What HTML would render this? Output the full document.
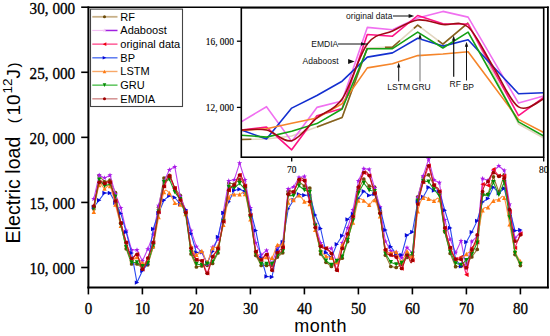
<!DOCTYPE html>
<html><head><meta charset="utf-8"><style>
html,body{margin:0;padding:0;background:#fff;width:550px;height:336px;overflow:hidden;}
svg{display:block;font-family:"Liberation Sans", sans-serif;}
</style></head><body>
<svg width="550" height="336" viewBox="0 0 550 336">
<rect width="550" height="336" fill="#fff"/>
<defs><clipPath id="cm"><rect x="88.4" y="7.2" width="459.5" height="280"/></clipPath><clipPath id="ci"><rect x="241.3" y="7.8" width="302.4" height="149.4"/></clipPath></defs>
<g clip-path="url(#cm)">
<path d="M93.80,209.00 L99.20,175.60 L104.60,181.90 L110.00,180.00 L115.40,192.60 L120.80,223.20 L126.20,248.80 L131.60,264.00 L137.00,264.00 L142.40,267.80 L147.80,264.80 L153.20,246.90 L158.60,207.35 L164.00,178.00 L169.40,175.30 L174.80,188.10 L180.20,195.30 L185.60,210.51 L191.00,254.00 L196.40,267.00 L201.80,266.00 L207.20,265.30 L212.60,263.40 L218.00,253.00 L223.40,218.87 L228.80,183.00 L234.20,184.00 L239.60,179.30 L245.00,185.20 L250.40,214.58 L255.80,255.50 L261.20,265.50 L266.60,265.50 L272.00,265.50 L277.40,257.10 L282.80,252.80 L288.20,191.40 L293.60,191.59 L299.00,181.80 L304.40,186.00 L309.80,188.00 L315.20,224.14 L320.60,254.00 L326.00,262.30 L331.40,266.50 L336.80,262.50 L342.20,258.20 L347.60,241.52 L353.00,217.59 L358.40,189.30 L363.80,179.00 L369.20,186.20 L374.60,187.20 L380.00,210.35 L385.40,255.13 L390.80,266.50 L396.20,267.50 L401.60,264.50 L407.00,257.50 L412.40,255.50 L417.80,196.78 L423.20,177.00 L428.60,174.80 L434.00,185.40 L439.40,192.02 L444.80,231.83 L450.20,253.40 L455.60,266.71 L461.00,266.32 L466.40,263.96 L471.80,256.88 L477.20,249.49 L482.60,194.76 L488.00,194.05 L493.40,176.75 L498.80,191.77 L504.20,174.94 L509.60,214.73 L515.00,254.52 L520.40,265.53" fill="none" stroke="#9a7630" stroke-width="1.1" stroke-linejoin="round"/>
<circle cx="93.80" cy="209.00" r="1.87" fill="#6a4a08"/><circle cx="99.20" cy="175.60" r="1.87" fill="#6a4a08"/><circle cx="104.60" cy="181.90" r="1.87" fill="#6a4a08"/><circle cx="110.00" cy="180.00" r="1.87" fill="#6a4a08"/><circle cx="115.40" cy="192.60" r="1.87" fill="#6a4a08"/><circle cx="120.80" cy="223.20" r="1.87" fill="#6a4a08"/><circle cx="126.20" cy="248.80" r="1.87" fill="#6a4a08"/><circle cx="131.60" cy="264.00" r="1.87" fill="#6a4a08"/><circle cx="137.00" cy="264.00" r="1.87" fill="#6a4a08"/><circle cx="142.40" cy="267.80" r="1.87" fill="#6a4a08"/><circle cx="147.80" cy="264.80" r="1.87" fill="#6a4a08"/><circle cx="153.20" cy="246.90" r="1.87" fill="#6a4a08"/><circle cx="158.60" cy="207.35" r="1.87" fill="#6a4a08"/><circle cx="164.00" cy="178.00" r="1.87" fill="#6a4a08"/><circle cx="169.40" cy="175.30" r="1.87" fill="#6a4a08"/><circle cx="174.80" cy="188.10" r="1.87" fill="#6a4a08"/><circle cx="180.20" cy="195.30" r="1.87" fill="#6a4a08"/><circle cx="185.60" cy="210.51" r="1.87" fill="#6a4a08"/><circle cx="191.00" cy="254.00" r="1.87" fill="#6a4a08"/><circle cx="196.40" cy="267.00" r="1.87" fill="#6a4a08"/><circle cx="201.80" cy="266.00" r="1.87" fill="#6a4a08"/><circle cx="207.20" cy="265.30" r="1.87" fill="#6a4a08"/><circle cx="212.60" cy="263.40" r="1.87" fill="#6a4a08"/><circle cx="218.00" cy="253.00" r="1.87" fill="#6a4a08"/><circle cx="223.40" cy="218.87" r="1.87" fill="#6a4a08"/><circle cx="228.80" cy="183.00" r="1.87" fill="#6a4a08"/><circle cx="234.20" cy="184.00" r="1.87" fill="#6a4a08"/><circle cx="239.60" cy="179.30" r="1.87" fill="#6a4a08"/><circle cx="245.00" cy="185.20" r="1.87" fill="#6a4a08"/><circle cx="250.40" cy="214.58" r="1.87" fill="#6a4a08"/><circle cx="255.80" cy="255.50" r="1.87" fill="#6a4a08"/><circle cx="261.20" cy="265.50" r="1.87" fill="#6a4a08"/><circle cx="266.60" cy="265.50" r="1.87" fill="#6a4a08"/><circle cx="272.00" cy="265.50" r="1.87" fill="#6a4a08"/><circle cx="277.40" cy="257.10" r="1.87" fill="#6a4a08"/><circle cx="282.80" cy="252.80" r="1.87" fill="#6a4a08"/><circle cx="288.20" cy="191.40" r="1.87" fill="#6a4a08"/><circle cx="293.60" cy="191.59" r="1.87" fill="#6a4a08"/><circle cx="299.00" cy="181.80" r="1.87" fill="#6a4a08"/><circle cx="304.40" cy="186.00" r="1.87" fill="#6a4a08"/><circle cx="309.80" cy="188.00" r="1.87" fill="#6a4a08"/><circle cx="315.20" cy="224.14" r="1.87" fill="#6a4a08"/><circle cx="320.60" cy="254.00" r="1.87" fill="#6a4a08"/><circle cx="326.00" cy="262.30" r="1.87" fill="#6a4a08"/><circle cx="331.40" cy="266.50" r="1.87" fill="#6a4a08"/><circle cx="336.80" cy="262.50" r="1.87" fill="#6a4a08"/><circle cx="342.20" cy="258.20" r="1.87" fill="#6a4a08"/><circle cx="347.60" cy="241.52" r="1.87" fill="#6a4a08"/><circle cx="353.00" cy="217.59" r="1.87" fill="#6a4a08"/><circle cx="358.40" cy="189.30" r="1.87" fill="#6a4a08"/><circle cx="363.80" cy="179.00" r="1.87" fill="#6a4a08"/><circle cx="369.20" cy="186.20" r="1.87" fill="#6a4a08"/><circle cx="374.60" cy="187.20" r="1.87" fill="#6a4a08"/><circle cx="380.00" cy="210.35" r="1.87" fill="#6a4a08"/><circle cx="385.40" cy="255.13" r="1.87" fill="#6a4a08"/><circle cx="390.80" cy="266.50" r="1.87" fill="#6a4a08"/><circle cx="396.20" cy="267.50" r="1.87" fill="#6a4a08"/><circle cx="401.60" cy="264.50" r="1.87" fill="#6a4a08"/><circle cx="407.00" cy="257.50" r="1.87" fill="#6a4a08"/><circle cx="412.40" cy="255.50" r="1.87" fill="#6a4a08"/><circle cx="417.80" cy="196.78" r="1.87" fill="#6a4a08"/><circle cx="423.20" cy="177.00" r="1.87" fill="#6a4a08"/><circle cx="428.60" cy="174.80" r="1.87" fill="#6a4a08"/><circle cx="434.00" cy="185.40" r="1.87" fill="#6a4a08"/><circle cx="439.40" cy="192.02" r="1.87" fill="#6a4a08"/><circle cx="444.80" cy="231.83" r="1.87" fill="#6a4a08"/><circle cx="450.20" cy="253.40" r="1.87" fill="#6a4a08"/><circle cx="455.60" cy="266.71" r="1.87" fill="#6a4a08"/><circle cx="461.00" cy="266.32" r="1.87" fill="#6a4a08"/><circle cx="466.40" cy="263.96" r="1.87" fill="#6a4a08"/><circle cx="471.80" cy="256.88" r="1.87" fill="#6a4a08"/><circle cx="477.20" cy="249.49" r="1.87" fill="#6a4a08"/><circle cx="482.60" cy="194.76" r="1.87" fill="#6a4a08"/><circle cx="488.00" cy="194.05" r="1.87" fill="#6a4a08"/><circle cx="493.40" cy="176.75" r="1.87" fill="#6a4a08"/><circle cx="498.80" cy="191.77" r="1.87" fill="#6a4a08"/><circle cx="504.20" cy="174.94" r="1.87" fill="#6a4a08"/><circle cx="509.60" cy="214.73" r="1.87" fill="#6a4a08"/><circle cx="515.00" cy="254.52" r="1.87" fill="#6a4a08"/><circle cx="520.40" cy="265.53" r="1.87" fill="#6a4a08"/>
<path d="M93.80,199.00 L99.20,175.20 L104.60,177.90 L110.00,175.20 L115.40,194.00 L120.80,208.00 L126.20,230.71 L131.60,250.00 L137.00,250.00 L142.40,261.00 L147.80,249.10 L153.20,234.62 L158.60,205.66 L164.00,181.40 L169.40,169.80 L174.80,166.80 L180.20,196.60 L185.60,210.00 L191.00,230.60 L196.40,246.68 L201.80,252.50 L207.20,264.30 L212.60,247.37 L218.00,239.44 L223.40,211.92 L228.80,180.80 L234.20,179.80 L239.60,163.10 L245.00,180.00 L250.40,207.83 L255.80,243.00 L261.20,255.00 L266.60,250.40 L272.00,264.00 L277.40,247.30 L282.80,242.00 L288.20,189.00 L293.60,186.90 L299.00,177.50 L304.40,176.50 L309.80,197.69 L315.20,223.86 L320.60,243.00 L326.00,249.00 L331.40,248.30 L336.80,263.00 L342.20,243.00 L347.60,227.97 L353.00,210.00 L358.40,181.00 L363.80,168.75 L369.20,169.40 L374.60,188.00 L380.00,207.00 L385.40,241.50 L390.80,250.80 L396.20,252.30 L401.60,258.00 L407.00,247.70 L412.40,252.72 L417.80,197.70 L423.20,175.80 L428.60,159.20 L434.00,180.00 L439.40,182.70 L444.80,220.00 L450.20,239.36 L455.60,252.72 L461.00,240.92 L466.40,268.21 L471.80,241.47 L477.20,236.44 L482.60,178.56 L488.00,180.44 L493.40,171.09 L498.80,165.98 L504.20,170.46 L509.60,204.27 L515.00,238.09 L520.40,232.50" fill="none" stroke="#c040f0" stroke-width="1.1" stroke-linejoin="round"/>
<polygon points="93.80,196.25 94.45,198.11 96.42,198.15 94.85,199.34 95.42,201.22 93.80,200.10 92.18,201.22 92.75,199.34 91.18,198.15 93.15,198.11" fill="#a818e8"/><polygon points="99.20,172.45 99.85,174.31 101.82,174.35 100.25,175.54 100.82,177.42 99.20,176.30 97.58,177.42 98.15,175.54 96.58,174.35 98.55,174.31" fill="#a818e8"/><polygon points="104.60,175.15 105.25,177.01 107.22,177.05 105.65,178.24 106.22,180.12 104.60,179.00 102.98,180.12 103.55,178.24 101.98,177.05 103.95,177.01" fill="#a818e8"/><polygon points="110.00,172.45 110.65,174.31 112.62,174.35 111.05,175.54 111.62,177.42 110.00,176.30 108.38,177.42 108.95,175.54 107.38,174.35 109.35,174.31" fill="#a818e8"/><polygon points="115.40,191.25 116.05,193.11 118.02,193.15 116.45,194.34 117.02,196.22 115.40,195.10 113.78,196.22 114.35,194.34 112.78,193.15 114.75,193.11" fill="#a818e8"/><polygon points="120.80,205.25 121.45,207.11 123.42,207.15 121.85,208.34 122.42,210.22 120.80,209.10 119.18,210.22 119.75,208.34 118.18,207.15 120.15,207.11" fill="#a818e8"/><polygon points="126.20,227.96 126.85,229.82 128.82,229.86 127.25,231.05 127.82,232.94 126.20,231.81 124.58,232.94 125.15,231.05 123.58,229.86 125.55,229.82" fill="#a818e8"/><polygon points="131.60,247.25 132.25,249.11 134.22,249.15 132.65,250.34 133.22,252.22 131.60,251.10 129.98,252.22 130.55,250.34 128.98,249.15 130.95,249.11" fill="#a818e8"/><polygon points="137.00,247.25 137.65,249.11 139.62,249.15 138.05,250.34 138.62,252.22 137.00,251.10 135.38,252.22 135.95,250.34 134.38,249.15 136.35,249.11" fill="#a818e8"/><polygon points="142.40,258.25 143.05,260.11 145.02,260.15 143.45,261.34 144.02,263.22 142.40,262.10 140.78,263.22 141.35,261.34 139.78,260.15 141.75,260.11" fill="#a818e8"/><polygon points="147.80,246.35 148.45,248.21 150.42,248.25 148.85,249.44 149.42,251.32 147.80,250.20 146.18,251.32 146.75,249.44 145.18,248.25 147.15,248.21" fill="#a818e8"/><polygon points="153.20,231.87 153.85,233.73 155.82,233.77 154.25,234.96 154.82,236.84 153.20,235.72 151.58,236.84 152.15,234.96 150.58,233.77 152.55,233.73" fill="#a818e8"/><polygon points="158.60,202.91 159.25,204.77 161.22,204.81 159.65,206.00 160.22,207.89 158.60,206.76 156.98,207.89 157.55,206.00 155.98,204.81 157.95,204.77" fill="#a818e8"/><polygon points="164.00,178.65 164.65,180.51 166.62,180.55 165.05,181.74 165.62,183.62 164.00,182.50 162.38,183.62 162.95,181.74 161.38,180.55 163.35,180.51" fill="#a818e8"/><polygon points="169.40,167.05 170.05,168.91 172.02,168.95 170.45,170.14 171.02,172.02 169.40,170.90 167.78,172.02 168.35,170.14 166.78,168.95 168.75,168.91" fill="#a818e8"/><polygon points="174.80,164.05 175.45,165.91 177.42,165.95 175.85,167.14 176.42,169.02 174.80,167.90 173.18,169.02 173.75,167.14 172.18,165.95 174.15,165.91" fill="#a818e8"/><polygon points="180.20,193.85 180.85,195.71 182.82,195.75 181.25,196.94 181.82,198.82 180.20,197.70 178.58,198.82 179.15,196.94 177.58,195.75 179.55,195.71" fill="#a818e8"/><polygon points="185.60,207.25 186.25,209.11 188.22,209.15 186.65,210.34 187.22,212.22 185.60,211.10 183.98,212.22 184.55,210.34 182.98,209.15 184.95,209.11" fill="#a818e8"/><polygon points="191.00,227.85 191.65,229.71 193.62,229.75 192.05,230.94 192.62,232.82 191.00,231.70 189.38,232.82 189.95,230.94 188.38,229.75 190.35,229.71" fill="#a818e8"/><polygon points="196.40,243.93 197.05,245.79 199.02,245.83 197.45,247.02 198.02,248.91 196.40,247.78 194.78,248.91 195.35,247.02 193.78,245.83 195.75,245.79" fill="#a818e8"/><polygon points="201.80,249.75 202.45,251.61 204.42,251.65 202.85,252.84 203.42,254.72 201.80,253.60 200.18,254.72 200.75,252.84 199.18,251.65 201.15,251.61" fill="#a818e8"/><polygon points="207.20,261.55 207.85,263.41 209.82,263.45 208.25,264.64 208.82,266.52 207.20,265.40 205.58,266.52 206.15,264.64 204.58,263.45 206.55,263.41" fill="#a818e8"/><polygon points="212.60,244.62 213.25,246.48 215.22,246.52 213.65,247.71 214.22,249.59 212.60,248.47 210.98,249.59 211.55,247.71 209.98,246.52 211.95,246.48" fill="#a818e8"/><polygon points="218.00,236.69 218.65,238.55 220.62,238.59 219.05,239.78 219.62,241.66 218.00,240.54 216.38,241.66 216.95,239.78 215.38,238.59 217.35,238.55" fill="#a818e8"/><polygon points="223.40,209.17 224.05,211.03 226.02,211.07 224.45,212.26 225.02,214.14 223.40,213.02 221.78,214.14 222.35,212.26 220.78,211.07 222.75,211.03" fill="#a818e8"/><polygon points="228.80,178.05 229.45,179.91 231.42,179.95 229.85,181.14 230.42,183.02 228.80,181.90 227.18,183.02 227.75,181.14 226.18,179.95 228.15,179.91" fill="#a818e8"/><polygon points="234.20,177.05 234.85,178.91 236.82,178.95 235.25,180.14 235.82,182.02 234.20,180.90 232.58,182.02 233.15,180.14 231.58,178.95 233.55,178.91" fill="#a818e8"/><polygon points="239.60,160.35 240.25,162.21 242.22,162.25 240.65,163.44 241.22,165.32 239.60,164.20 237.98,165.32 238.55,163.44 236.98,162.25 238.95,162.21" fill="#a818e8"/><polygon points="245.00,177.25 245.65,179.11 247.62,179.15 246.05,180.34 246.62,182.22 245.00,181.10 243.38,182.22 243.95,180.34 242.38,179.15 244.35,179.11" fill="#a818e8"/><polygon points="250.40,205.08 251.05,206.94 253.02,206.98 251.45,208.17 252.02,210.06 250.40,208.93 248.78,210.06 249.35,208.17 247.78,206.98 249.75,206.94" fill="#a818e8"/><polygon points="255.80,240.25 256.45,242.11 258.42,242.15 256.85,243.34 257.42,245.22 255.80,244.10 254.18,245.22 254.75,243.34 253.18,242.15 255.15,242.11" fill="#a818e8"/><polygon points="261.20,252.25 261.85,254.11 263.82,254.15 262.25,255.34 262.82,257.22 261.20,256.10 259.58,257.22 260.15,255.34 258.58,254.15 260.55,254.11" fill="#a818e8"/><polygon points="266.60,247.65 267.25,249.51 269.22,249.55 267.65,250.74 268.22,252.62 266.60,251.50 264.98,252.62 265.55,250.74 263.98,249.55 265.95,249.51" fill="#a818e8"/><polygon points="272.00,261.25 272.65,263.11 274.62,263.15 273.05,264.34 273.62,266.22 272.00,265.10 270.38,266.22 270.95,264.34 269.38,263.15 271.35,263.11" fill="#a818e8"/><polygon points="277.40,244.55 278.05,246.41 280.02,246.45 278.45,247.64 279.02,249.52 277.40,248.40 275.78,249.52 276.35,247.64 274.78,246.45 276.75,246.41" fill="#a818e8"/><polygon points="282.80,239.25 283.45,241.11 285.42,241.15 283.85,242.34 284.42,244.22 282.80,243.10 281.18,244.22 281.75,242.34 280.18,241.15 282.15,241.11" fill="#a818e8"/><polygon points="288.20,186.25 288.85,188.11 290.82,188.15 289.25,189.34 289.82,191.22 288.20,190.10 286.58,191.22 287.15,189.34 285.58,188.15 287.55,188.11" fill="#a818e8"/><polygon points="293.60,184.15 294.25,186.01 296.22,186.05 294.65,187.24 295.22,189.12 293.60,188.00 291.98,189.12 292.55,187.24 290.98,186.05 292.95,186.01" fill="#a818e8"/><polygon points="299.00,174.75 299.65,176.61 301.62,176.65 300.05,177.84 300.62,179.72 299.00,178.60 297.38,179.72 297.95,177.84 296.38,176.65 298.35,176.61" fill="#a818e8"/><polygon points="304.40,173.75 305.05,175.61 307.02,175.65 305.45,176.84 306.02,178.72 304.40,177.60 302.78,178.72 303.35,176.84 301.78,175.65 303.75,175.61" fill="#a818e8"/><polygon points="309.80,194.94 310.45,196.80 312.42,196.84 310.85,198.03 311.42,199.91 309.80,198.79 308.18,199.91 308.75,198.03 307.18,196.84 309.15,196.80" fill="#a818e8"/><polygon points="315.20,221.11 315.85,222.97 317.82,223.01 316.25,224.20 316.82,226.09 315.20,224.96 313.58,226.09 314.15,224.20 312.58,223.01 314.55,222.97" fill="#a818e8"/><polygon points="320.60,240.25 321.25,242.11 323.22,242.15 321.65,243.34 322.22,245.22 320.60,244.10 318.98,245.22 319.55,243.34 317.98,242.15 319.95,242.11" fill="#a818e8"/><polygon points="326.00,246.25 326.65,248.11 328.62,248.15 327.05,249.34 327.62,251.22 326.00,250.10 324.38,251.22 324.95,249.34 323.38,248.15 325.35,248.11" fill="#a818e8"/><polygon points="331.40,245.55 332.05,247.41 334.02,247.45 332.45,248.64 333.02,250.52 331.40,249.40 329.78,250.52 330.35,248.64 328.78,247.45 330.75,247.41" fill="#a818e8"/><polygon points="336.80,260.25 337.45,262.11 339.42,262.15 337.85,263.34 338.42,265.22 336.80,264.10 335.18,265.22 335.75,263.34 334.18,262.15 336.15,262.11" fill="#a818e8"/><polygon points="342.20,240.25 342.85,242.11 344.82,242.15 343.25,243.34 343.82,245.22 342.20,244.10 340.58,245.22 341.15,243.34 339.58,242.15 341.55,242.11" fill="#a818e8"/><polygon points="347.60,225.22 348.25,227.08 350.22,227.12 348.65,228.31 349.22,230.19 347.60,229.07 345.98,230.19 346.55,228.31 344.98,227.12 346.95,227.08" fill="#a818e8"/><polygon points="353.00,207.25 353.65,209.11 355.62,209.15 354.05,210.34 354.62,212.22 353.00,211.10 351.38,212.22 351.95,210.34 350.38,209.15 352.35,209.11" fill="#a818e8"/><polygon points="358.40,178.25 359.05,180.11 361.02,180.15 359.45,181.34 360.02,183.22 358.40,182.10 356.78,183.22 357.35,181.34 355.78,180.15 357.75,180.11" fill="#a818e8"/><polygon points="363.80,166.00 364.45,167.86 366.42,167.90 364.85,169.09 365.42,170.97 363.80,169.85 362.18,170.97 362.75,169.09 361.18,167.90 363.15,167.86" fill="#a818e8"/><polygon points="369.20,166.65 369.85,168.51 371.82,168.55 370.25,169.74 370.82,171.62 369.20,170.50 367.58,171.62 368.15,169.74 366.58,168.55 368.55,168.51" fill="#a818e8"/><polygon points="374.60,185.25 375.25,187.11 377.22,187.15 375.65,188.34 376.22,190.22 374.60,189.10 372.98,190.22 373.55,188.34 371.98,187.15 373.95,187.11" fill="#a818e8"/><polygon points="380.00,204.25 380.65,206.11 382.62,206.15 381.05,207.34 381.62,209.22 380.00,208.10 378.38,209.22 378.95,207.34 377.38,206.15 379.35,206.11" fill="#a818e8"/><polygon points="385.40,238.75 386.05,240.61 388.02,240.65 386.45,241.84 387.02,243.72 385.40,242.60 383.78,243.72 384.35,241.84 382.78,240.65 384.75,240.61" fill="#a818e8"/><polygon points="390.80,248.05 391.45,249.91 393.42,249.95 391.85,251.14 392.42,253.02 390.80,251.90 389.18,253.02 389.75,251.14 388.18,249.95 390.15,249.91" fill="#a818e8"/><polygon points="396.20,249.55 396.85,251.41 398.82,251.45 397.25,252.64 397.82,254.52 396.20,253.40 394.58,254.52 395.15,252.64 393.58,251.45 395.55,251.41" fill="#a818e8"/><polygon points="401.60,255.25 402.25,257.11 404.22,257.15 402.65,258.34 403.22,260.22 401.60,259.10 399.98,260.22 400.55,258.34 398.98,257.15 400.95,257.11" fill="#a818e8"/><polygon points="407.00,244.95 407.65,246.81 409.62,246.85 408.05,248.04 408.62,249.92 407.00,248.80 405.38,249.92 405.95,248.04 404.38,246.85 406.35,246.81" fill="#a818e8"/><polygon points="412.40,249.97 413.05,251.83 415.02,251.87 413.45,253.06 414.02,254.94 412.40,253.82 410.78,254.94 411.35,253.06 409.78,251.87 411.75,251.83" fill="#a818e8"/><polygon points="417.80,194.95 418.45,196.81 420.42,196.85 418.85,198.04 419.42,199.92 417.80,198.80 416.18,199.92 416.75,198.04 415.18,196.85 417.15,196.81" fill="#a818e8"/><polygon points="423.20,173.05 423.85,174.91 425.82,174.95 424.25,176.14 424.82,178.02 423.20,176.90 421.58,178.02 422.15,176.14 420.58,174.95 422.55,174.91" fill="#a818e8"/><polygon points="428.60,156.45 429.25,158.31 431.22,158.35 429.65,159.54 430.22,161.42 428.60,160.30 426.98,161.42 427.55,159.54 425.98,158.35 427.95,158.31" fill="#a818e8"/><polygon points="434.00,177.25 434.65,179.11 436.62,179.15 435.05,180.34 435.62,182.22 434.00,181.10 432.38,182.22 432.95,180.34 431.38,179.15 433.35,179.11" fill="#a818e8"/><polygon points="439.40,179.95 440.05,181.81 442.02,181.85 440.45,183.04 441.02,184.92 439.40,183.80 437.78,184.92 438.35,183.04 436.78,181.85 438.75,181.81" fill="#a818e8"/><polygon points="444.80,217.25 445.45,219.11 447.42,219.15 445.85,220.34 446.42,222.22 444.80,221.10 443.18,222.22 443.75,220.34 442.18,219.15 444.15,219.11" fill="#a818e8"/><polygon points="450.20,236.61 450.85,238.47 452.82,238.51 451.25,239.70 451.82,241.58 450.20,240.46 448.58,241.58 449.15,239.70 447.58,238.51 449.55,238.47" fill="#a818e8"/><polygon points="455.60,249.97 456.25,251.83 458.22,251.87 456.65,253.06 457.22,254.94 455.60,253.82 453.98,254.94 454.55,253.06 452.98,251.87 454.95,251.83" fill="#a818e8"/><polygon points="461.00,238.17 461.65,240.03 463.62,240.07 462.05,241.26 462.62,243.14 461.00,242.02 459.38,243.14 459.95,241.26 458.38,240.07 460.35,240.03" fill="#a818e8"/><polygon points="466.40,265.46 467.05,267.32 469.02,267.36 467.45,268.55 468.02,270.43 466.40,269.31 464.78,270.43 465.35,268.55 463.78,267.36 465.75,267.32" fill="#a818e8"/><polygon points="471.80,238.72 472.45,240.58 474.42,240.62 472.85,241.81 473.42,243.69 471.80,242.57 470.18,243.69 470.75,241.81 469.18,240.62 471.15,240.58" fill="#a818e8"/><polygon points="477.20,233.69 477.85,235.55 479.82,235.59 478.25,236.78 478.82,238.66 477.20,237.54 475.58,238.66 476.15,236.78 474.58,235.59 476.55,235.55" fill="#a818e8"/><polygon points="482.60,175.81 483.25,177.67 485.22,177.71 483.65,178.90 484.22,180.78 482.60,179.66 480.98,180.78 481.55,178.90 479.98,177.71 481.95,177.67" fill="#a818e8"/><polygon points="488.00,177.69 488.65,179.56 490.62,179.60 489.05,180.78 489.62,182.67 488.00,181.54 486.38,182.67 486.95,180.78 485.38,179.60 487.35,179.56" fill="#a818e8"/><polygon points="493.40,168.34 494.05,170.20 496.02,170.24 494.45,171.43 495.02,173.31 493.40,172.19 491.78,173.31 492.35,171.43 490.78,170.24 492.75,170.20" fill="#a818e8"/><polygon points="498.80,163.23 499.45,165.09 501.42,165.13 499.85,166.32 500.42,168.20 498.80,167.08 497.18,168.20 497.75,166.32 496.18,165.13 498.15,165.09" fill="#a818e8"/><polygon points="504.20,167.71 504.85,169.57 506.82,169.61 505.25,170.80 505.82,172.68 504.20,171.56 502.58,172.68 503.15,170.80 501.58,169.61 503.55,169.57" fill="#a818e8"/><polygon points="509.60,201.52 510.25,203.38 512.22,203.42 510.65,204.61 511.22,206.50 509.60,205.37 507.98,206.50 508.55,204.61 506.98,203.42 508.95,203.38" fill="#a818e8"/><polygon points="515.00,235.34 515.65,237.20 517.62,237.24 516.05,238.43 516.62,240.31 515.00,239.19 513.38,240.31 513.95,238.43 512.38,237.24 514.35,237.20" fill="#a818e8"/><polygon points="520.40,229.75 521.05,231.62 523.02,231.66 521.45,232.84 522.02,234.73 520.40,233.60 518.78,234.73 519.35,232.84 517.78,231.66 519.75,231.62" fill="#a818e8"/>
<path d="M93.80,206.00 L99.20,182.30 L104.60,183.50 L110.00,182.30 L115.40,201.00 L120.80,223.00 L126.20,242.50 L131.60,258.50 L137.00,254.30 L142.40,269.20 L147.80,258.00 L153.20,242.40 L158.60,212.00 L164.00,186.40 L169.40,176.40 L174.80,188.20 L180.20,200.00 L185.60,212.50 L191.00,248.30 L196.40,259.80 L201.80,260.80 L207.20,273.30 L212.60,256.70 L218.00,248.30 L223.40,221.50 L228.80,190.20 L234.20,185.00 L239.60,175.00 L245.00,186.00 L250.40,215.00 L255.80,251.50 L261.20,259.80 L266.60,254.60 L272.00,270.20 L277.40,252.50 L282.80,247.30 L288.20,194.20 L293.60,192.00 L299.00,179.60 L304.40,180.60 L309.80,201.50 L315.20,227.50 L320.60,246.30 L326.00,248.30 L331.40,253.50 L336.80,270.20 L342.20,248.30 L347.60,233.80 L353.00,216.30 L358.40,187.00 L363.80,172.50 L369.20,175.60 L374.60,193.30 L380.00,213.30 L385.40,249.80 L390.80,255.00 L396.20,257.10 L401.60,268.50 L407.00,255.00 L412.40,260.20 L417.80,204.00 L423.20,182.00 L428.60,165.80 L434.00,185.20 L439.40,191.50 L444.80,227.90 L450.20,247.70 L455.60,259.24 L461.00,256.96 L466.40,274.81 L471.80,248.00 L477.20,242.41 L482.60,184.14 L488.00,185.48 L493.40,169.20 L498.80,175.73 L504.20,175.88 L509.60,211.90 L515.00,247.92 L520.40,233.68" fill="none" stroke="#ff2070" stroke-width="1.1" stroke-linejoin="round"/>
<polygon points="91.60,206.00 96.00,203.80 96.00,208.20" fill="#ee0010"/><polygon points="97.00,182.30 101.40,180.10 101.40,184.50" fill="#ee0010"/><polygon points="102.40,183.50 106.80,181.30 106.80,185.70" fill="#ee0010"/><polygon points="107.80,182.30 112.20,180.10 112.20,184.50" fill="#ee0010"/><polygon points="113.20,201.00 117.60,198.80 117.60,203.20" fill="#ee0010"/><polygon points="118.60,223.00 123.00,220.80 123.00,225.20" fill="#ee0010"/><polygon points="124.00,242.50 128.40,240.30 128.40,244.70" fill="#ee0010"/><polygon points="129.40,258.50 133.80,256.30 133.80,260.70" fill="#ee0010"/><polygon points="134.80,254.30 139.20,252.10 139.20,256.50" fill="#ee0010"/><polygon points="140.20,269.20 144.60,267.00 144.60,271.40" fill="#ee0010"/><polygon points="145.60,258.00 150.00,255.80 150.00,260.20" fill="#ee0010"/><polygon points="151.00,242.40 155.40,240.20 155.40,244.60" fill="#ee0010"/><polygon points="156.40,212.00 160.80,209.80 160.80,214.20" fill="#ee0010"/><polygon points="161.80,186.40 166.20,184.20 166.20,188.60" fill="#ee0010"/><polygon points="167.20,176.40 171.60,174.20 171.60,178.60" fill="#ee0010"/><polygon points="172.60,188.20 177.00,186.00 177.00,190.40" fill="#ee0010"/><polygon points="178.00,200.00 182.40,197.80 182.40,202.20" fill="#ee0010"/><polygon points="183.40,212.50 187.80,210.30 187.80,214.70" fill="#ee0010"/><polygon points="188.80,248.30 193.20,246.10 193.20,250.50" fill="#ee0010"/><polygon points="194.20,259.80 198.60,257.60 198.60,262.00" fill="#ee0010"/><polygon points="199.60,260.80 204.00,258.60 204.00,263.00" fill="#ee0010"/><polygon points="205.00,273.30 209.40,271.10 209.40,275.50" fill="#ee0010"/><polygon points="210.40,256.70 214.80,254.50 214.80,258.90" fill="#ee0010"/><polygon points="215.80,248.30 220.20,246.10 220.20,250.50" fill="#ee0010"/><polygon points="221.20,221.50 225.60,219.30 225.60,223.70" fill="#ee0010"/><polygon points="226.60,190.20 231.00,188.00 231.00,192.40" fill="#ee0010"/><polygon points="232.00,185.00 236.40,182.80 236.40,187.20" fill="#ee0010"/><polygon points="237.40,175.00 241.80,172.80 241.80,177.20" fill="#ee0010"/><polygon points="242.80,186.00 247.20,183.80 247.20,188.20" fill="#ee0010"/><polygon points="248.20,215.00 252.60,212.80 252.60,217.20" fill="#ee0010"/><polygon points="253.60,251.50 258.00,249.30 258.00,253.70" fill="#ee0010"/><polygon points="259.00,259.80 263.40,257.60 263.40,262.00" fill="#ee0010"/><polygon points="264.40,254.60 268.80,252.40 268.80,256.80" fill="#ee0010"/><polygon points="269.80,270.20 274.20,268.00 274.20,272.40" fill="#ee0010"/><polygon points="275.20,252.50 279.60,250.30 279.60,254.70" fill="#ee0010"/><polygon points="280.60,247.30 285.00,245.10 285.00,249.50" fill="#ee0010"/><polygon points="286.00,194.20 290.40,192.00 290.40,196.40" fill="#ee0010"/><polygon points="291.40,192.00 295.80,189.80 295.80,194.20" fill="#ee0010"/><polygon points="296.80,179.60 301.20,177.40 301.20,181.80" fill="#ee0010"/><polygon points="302.20,180.60 306.60,178.40 306.60,182.80" fill="#ee0010"/><polygon points="307.60,201.50 312.00,199.30 312.00,203.70" fill="#ee0010"/><polygon points="313.00,227.50 317.40,225.30 317.40,229.70" fill="#ee0010"/><polygon points="318.40,246.30 322.80,244.10 322.80,248.50" fill="#ee0010"/><polygon points="323.80,248.30 328.20,246.10 328.20,250.50" fill="#ee0010"/><polygon points="329.20,253.50 333.60,251.30 333.60,255.70" fill="#ee0010"/><polygon points="334.60,270.20 339.00,268.00 339.00,272.40" fill="#ee0010"/><polygon points="340.00,248.30 344.40,246.10 344.40,250.50" fill="#ee0010"/><polygon points="345.40,233.80 349.80,231.60 349.80,236.00" fill="#ee0010"/><polygon points="350.80,216.30 355.20,214.10 355.20,218.50" fill="#ee0010"/><polygon points="356.20,187.00 360.60,184.80 360.60,189.20" fill="#ee0010"/><polygon points="361.60,172.50 366.00,170.30 366.00,174.70" fill="#ee0010"/><polygon points="367.00,175.60 371.40,173.40 371.40,177.80" fill="#ee0010"/><polygon points="372.40,193.30 376.80,191.10 376.80,195.50" fill="#ee0010"/><polygon points="377.80,213.30 382.20,211.10 382.20,215.50" fill="#ee0010"/><polygon points="383.20,249.80 387.60,247.60 387.60,252.00" fill="#ee0010"/><polygon points="388.60,255.00 393.00,252.80 393.00,257.20" fill="#ee0010"/><polygon points="394.00,257.10 398.40,254.90 398.40,259.30" fill="#ee0010"/><polygon points="399.40,268.50 403.80,266.30 403.80,270.70" fill="#ee0010"/><polygon points="404.80,255.00 409.20,252.80 409.20,257.20" fill="#ee0010"/><polygon points="410.20,260.20 414.60,258.00 414.60,262.40" fill="#ee0010"/><polygon points="415.60,204.00 420.00,201.80 420.00,206.20" fill="#ee0010"/><polygon points="421.00,182.00 425.40,179.80 425.40,184.20" fill="#ee0010"/><polygon points="426.40,165.80 430.80,163.60 430.80,168.00" fill="#ee0010"/><polygon points="431.80,185.20 436.20,183.00 436.20,187.40" fill="#ee0010"/><polygon points="437.20,191.50 441.60,189.30 441.60,193.70" fill="#ee0010"/><polygon points="442.60,227.90 447.00,225.70 447.00,230.10" fill="#ee0010"/><polygon points="448.00,247.70 452.40,245.50 452.40,249.90" fill="#ee0010"/><polygon points="453.40,259.24 457.80,257.04 457.80,261.44" fill="#ee0010"/><polygon points="458.80,256.96 463.20,254.76 463.20,259.16" fill="#ee0010"/><polygon points="464.20,274.81 468.60,272.61 468.60,277.01" fill="#ee0010"/><polygon points="469.60,248.00 474.00,245.80 474.00,250.20" fill="#ee0010"/><polygon points="475.00,242.41 479.40,240.21 479.40,244.61" fill="#ee0010"/><polygon points="480.40,184.14 484.80,181.94 484.80,186.34" fill="#ee0010"/><polygon points="485.80,185.48 490.20,183.28 490.20,187.68" fill="#ee0010"/><polygon points="491.20,169.20 495.60,167.00 495.60,171.40" fill="#ee0010"/><polygon points="496.60,175.73 501.00,173.53 501.00,177.93" fill="#ee0010"/><polygon points="502.00,175.88 506.40,173.68 506.40,178.08" fill="#ee0010"/><polygon points="507.40,211.90 511.80,209.70 511.80,214.10" fill="#ee0010"/><polygon points="512.80,247.92 517.20,245.72 517.20,250.12" fill="#ee0010"/><polygon points="518.20,233.68 522.60,231.48 522.60,235.88" fill="#ee0010"/>
<path d="M93.80,207.00 L99.20,200.20 L104.60,193.00 L110.00,193.00 L115.40,202.80 L120.80,213.40 L126.20,232.10 L131.60,253.00 L137.00,282.60 L142.40,270.70 L147.80,264.00 L153.20,229.00 L158.60,213.00 L164.00,200.20 L169.40,195.70 L174.80,197.50 L180.20,204.00 L185.60,209.70 L191.00,233.80 L196.40,252.50 L201.80,252.00 L207.20,263.00 L212.60,251.50 L218.00,236.90 L223.40,213.00 L228.80,201.70 L234.20,190.20 L239.60,189.20 L245.00,191.70 L250.40,210.00 L255.80,230.60 L261.20,257.70 L266.60,276.50 L272.00,277.00 L277.40,250.00 L282.80,242.00 L288.20,208.80 L293.60,200.00 L299.00,194.20 L304.40,195.20 L309.80,195.00 L315.20,215.00 L320.60,228.50 L326.00,252.50 L331.40,257.70 L336.80,244.20 L342.20,235.80 L347.60,219.40 L353.00,214.00 L358.40,198.50 L363.80,191.30 L369.20,195.40 L374.60,194.00 L380.00,208.00 L385.40,230.00 L390.80,246.70 L396.20,254.00 L401.60,255.00 L407.00,235.20 L412.40,232.00 L417.80,201.40 L423.20,197.00 L428.60,187.30 L434.00,190.50 L439.40,191.60 L444.80,210.20 L450.20,227.90 L455.60,259.24 L461.00,266.32 L466.40,242.02 L471.80,232.11 L477.20,220.87 L482.60,201.91 L488.00,198.61 L493.40,187.13 L498.80,193.26 L504.20,188.31 L509.60,209.52 L515.00,230.74 L520.40,229.99" fill="none" stroke="#2848f0" stroke-width="1.1" stroke-linejoin="round"/>
<polygon points="96.00,207.00 91.60,204.80 91.60,209.20" fill="#0808d8"/><polygon points="101.40,200.20 97.00,198.00 97.00,202.40" fill="#0808d8"/><polygon points="106.80,193.00 102.40,190.80 102.40,195.20" fill="#0808d8"/><polygon points="112.20,193.00 107.80,190.80 107.80,195.20" fill="#0808d8"/><polygon points="117.60,202.80 113.20,200.60 113.20,205.00" fill="#0808d8"/><polygon points="123.00,213.40 118.60,211.20 118.60,215.60" fill="#0808d8"/><polygon points="128.40,232.10 124.00,229.90 124.00,234.30" fill="#0808d8"/><polygon points="133.80,253.00 129.40,250.80 129.40,255.20" fill="#0808d8"/><polygon points="139.20,282.60 134.80,280.40 134.80,284.80" fill="#0808d8"/><polygon points="144.60,270.70 140.20,268.50 140.20,272.90" fill="#0808d8"/><polygon points="150.00,264.00 145.60,261.80 145.60,266.20" fill="#0808d8"/><polygon points="155.40,229.00 151.00,226.80 151.00,231.20" fill="#0808d8"/><polygon points="160.80,213.00 156.40,210.80 156.40,215.20" fill="#0808d8"/><polygon points="166.20,200.20 161.80,198.00 161.80,202.40" fill="#0808d8"/><polygon points="171.60,195.70 167.20,193.50 167.20,197.90" fill="#0808d8"/><polygon points="177.00,197.50 172.60,195.30 172.60,199.70" fill="#0808d8"/><polygon points="182.40,204.00 178.00,201.80 178.00,206.20" fill="#0808d8"/><polygon points="187.80,209.70 183.40,207.50 183.40,211.90" fill="#0808d8"/><polygon points="193.20,233.80 188.80,231.60 188.80,236.00" fill="#0808d8"/><polygon points="198.60,252.50 194.20,250.30 194.20,254.70" fill="#0808d8"/><polygon points="204.00,252.00 199.60,249.80 199.60,254.20" fill="#0808d8"/><polygon points="209.40,263.00 205.00,260.80 205.00,265.20" fill="#0808d8"/><polygon points="214.80,251.50 210.40,249.30 210.40,253.70" fill="#0808d8"/><polygon points="220.20,236.90 215.80,234.70 215.80,239.10" fill="#0808d8"/><polygon points="225.60,213.00 221.20,210.80 221.20,215.20" fill="#0808d8"/><polygon points="231.00,201.70 226.60,199.50 226.60,203.90" fill="#0808d8"/><polygon points="236.40,190.20 232.00,188.00 232.00,192.40" fill="#0808d8"/><polygon points="241.80,189.20 237.40,187.00 237.40,191.40" fill="#0808d8"/><polygon points="247.20,191.70 242.80,189.50 242.80,193.90" fill="#0808d8"/><polygon points="252.60,210.00 248.20,207.80 248.20,212.20" fill="#0808d8"/><polygon points="258.00,230.60 253.60,228.40 253.60,232.80" fill="#0808d8"/><polygon points="263.40,257.70 259.00,255.50 259.00,259.90" fill="#0808d8"/><polygon points="268.80,276.50 264.40,274.30 264.40,278.70" fill="#0808d8"/><polygon points="274.20,277.00 269.80,274.80 269.80,279.20" fill="#0808d8"/><polygon points="279.60,250.00 275.20,247.80 275.20,252.20" fill="#0808d8"/><polygon points="285.00,242.00 280.60,239.80 280.60,244.20" fill="#0808d8"/><polygon points="290.40,208.80 286.00,206.60 286.00,211.00" fill="#0808d8"/><polygon points="295.80,200.00 291.40,197.80 291.40,202.20" fill="#0808d8"/><polygon points="301.20,194.20 296.80,192.00 296.80,196.40" fill="#0808d8"/><polygon points="306.60,195.20 302.20,193.00 302.20,197.40" fill="#0808d8"/><polygon points="312.00,195.00 307.60,192.80 307.60,197.20" fill="#0808d8"/><polygon points="317.40,215.00 313.00,212.80 313.00,217.20" fill="#0808d8"/><polygon points="322.80,228.50 318.40,226.30 318.40,230.70" fill="#0808d8"/><polygon points="328.20,252.50 323.80,250.30 323.80,254.70" fill="#0808d8"/><polygon points="333.60,257.70 329.20,255.50 329.20,259.90" fill="#0808d8"/><polygon points="339.00,244.20 334.60,242.00 334.60,246.40" fill="#0808d8"/><polygon points="344.40,235.80 340.00,233.60 340.00,238.00" fill="#0808d8"/><polygon points="349.80,219.40 345.40,217.20 345.40,221.60" fill="#0808d8"/><polygon points="355.20,214.00 350.80,211.80 350.80,216.20" fill="#0808d8"/><polygon points="360.60,198.50 356.20,196.30 356.20,200.70" fill="#0808d8"/><polygon points="366.00,191.30 361.60,189.10 361.60,193.50" fill="#0808d8"/><polygon points="371.40,195.40 367.00,193.20 367.00,197.60" fill="#0808d8"/><polygon points="376.80,194.00 372.40,191.80 372.40,196.20" fill="#0808d8"/><polygon points="382.20,208.00 377.80,205.80 377.80,210.20" fill="#0808d8"/><polygon points="387.60,230.00 383.20,227.80 383.20,232.20" fill="#0808d8"/><polygon points="393.00,246.70 388.60,244.50 388.60,248.90" fill="#0808d8"/><polygon points="398.40,254.00 394.00,251.80 394.00,256.20" fill="#0808d8"/><polygon points="403.80,255.00 399.40,252.80 399.40,257.20" fill="#0808d8"/><polygon points="409.20,235.20 404.80,233.00 404.80,237.40" fill="#0808d8"/><polygon points="414.60,232.00 410.20,229.80 410.20,234.20" fill="#0808d8"/><polygon points="420.00,201.40 415.60,199.20 415.60,203.60" fill="#0808d8"/><polygon points="425.40,197.00 421.00,194.80 421.00,199.20" fill="#0808d8"/><polygon points="430.80,187.30 426.40,185.10 426.40,189.50" fill="#0808d8"/><polygon points="436.20,190.50 431.80,188.30 431.80,192.70" fill="#0808d8"/><polygon points="441.60,191.60 437.20,189.40 437.20,193.80" fill="#0808d8"/><polygon points="447.00,210.20 442.60,208.00 442.60,212.40" fill="#0808d8"/><polygon points="452.40,227.90 448.00,225.70 448.00,230.10" fill="#0808d8"/><polygon points="457.80,259.24 453.40,257.04 453.40,261.44" fill="#0808d8"/><polygon points="463.20,266.32 458.80,264.12 458.80,268.52" fill="#0808d8"/><polygon points="468.60,242.02 464.20,239.82 464.20,244.22" fill="#0808d8"/><polygon points="474.00,232.11 469.60,229.91 469.60,234.31" fill="#0808d8"/><polygon points="479.40,220.87 475.00,218.67 475.00,223.07" fill="#0808d8"/><polygon points="484.80,201.91 480.40,199.71 480.40,204.11" fill="#0808d8"/><polygon points="490.20,198.61 485.80,196.41 485.80,200.81" fill="#0808d8"/><polygon points="495.60,187.13 491.20,184.93 491.20,189.33" fill="#0808d8"/><polygon points="501.00,193.26 496.60,191.06 496.60,195.46" fill="#0808d8"/><polygon points="506.40,188.31 502.00,186.11 502.00,190.51" fill="#0808d8"/><polygon points="511.80,209.52 507.40,207.32 507.40,211.72" fill="#0808d8"/><polygon points="517.20,230.74 512.80,228.54 512.80,232.94" fill="#0808d8"/><polygon points="522.60,229.99 518.20,227.79 518.20,232.19" fill="#0808d8"/>
<path d="M93.80,211.80 C94.70,207.33 97.40,188.87 99.20,185.00 C101.00,181.13 102.80,188.43 104.60,188.60 C106.40,188.77 108.20,183.34 110.00,186.00 C111.80,188.66 113.60,197.93 115.40,204.56 C117.20,211.19 119.00,219.05 120.80,225.79 C122.60,232.53 124.40,239.30 126.20,245.00 C128.00,250.70 129.80,258.00 131.60,260.00 C133.40,262.00 135.20,256.50 137.00,257.00 C138.80,257.50 140.60,262.33 142.40,263.00 C144.20,263.67 146.00,263.83 147.80,261.00 C149.60,258.17 151.40,253.32 153.20,246.00 C155.00,238.68 156.80,226.09 158.60,217.10 C160.40,208.12 162.20,196.12 164.00,192.10 C165.80,188.08 167.60,191.20 169.40,193.00 C171.20,194.80 173.00,200.97 174.80,202.90 C176.60,204.83 178.40,202.75 180.20,204.60 C182.00,206.45 183.80,207.11 185.60,213.99 C187.40,220.88 189.20,239.10 191.00,245.89 C192.80,252.69 194.60,253.93 196.40,254.77 C198.20,255.61 200.00,249.75 201.80,250.94 C203.60,252.13 205.40,262.39 207.20,261.90 C209.00,261.41 210.80,250.67 212.60,248.01 C214.40,245.34 216.20,249.78 218.00,245.92 C219.80,242.06 221.60,232.95 223.40,224.87 C225.20,216.80 227.00,202.56 228.80,197.48 C230.60,192.40 232.40,194.91 234.20,194.40 C236.00,193.89 237.80,194.47 239.60,194.40 C241.40,194.33 243.20,189.84 245.00,194.00 C246.80,198.16 248.60,209.68 250.40,219.36 C252.20,229.04 254.00,245.41 255.80,252.08 C257.60,258.75 259.40,258.56 261.20,259.38 C263.00,260.20 264.80,257.28 266.60,257.00 C268.40,256.72 270.20,259.73 272.00,257.70 C273.80,255.67 275.60,247.27 277.40,244.84 C279.20,242.40 281.00,250.15 282.80,243.09 C284.60,236.04 286.40,209.68 288.20,202.50 C290.00,195.32 291.80,201.22 293.60,200.00 C295.40,198.78 297.20,194.95 299.00,195.20 C300.80,195.45 302.60,200.03 304.40,201.50 C306.20,202.97 308.00,199.29 309.80,204.00 C311.60,208.71 313.40,222.15 315.20,229.77 C317.00,237.39 318.80,245.33 320.60,249.70 C322.40,254.07 324.20,254.67 326.00,256.00 C327.80,257.33 329.60,256.70 331.40,257.70 C333.20,258.70 335.00,264.11 336.80,262.00 C338.60,259.89 340.40,249.21 342.20,245.02 C344.00,240.83 345.80,240.60 347.60,236.86 C349.40,233.13 351.20,228.64 353.00,222.60 C354.80,216.56 356.60,204.27 358.40,200.60 C360.20,196.93 362.00,199.90 363.80,200.60 C365.60,201.30 367.40,204.90 369.20,204.80 C371.00,204.70 372.80,198.08 374.60,200.00 C376.40,201.92 378.20,208.19 380.00,216.29 C381.80,224.39 383.60,242.51 385.40,248.60 C387.20,254.70 389.00,252.29 390.80,252.86 C392.60,253.43 394.40,250.50 396.20,252.02 C398.00,253.55 399.80,262.15 401.60,262.00 C403.40,261.85 405.20,252.13 407.00,251.15 C408.80,250.17 410.60,262.77 412.40,256.13 C414.20,249.48 416.00,221.04 417.80,211.30 C419.60,201.56 421.40,199.79 423.20,197.70 C425.00,195.61 426.80,198.23 428.60,198.75 C430.40,199.27 432.20,200.59 434.00,200.80 C435.80,201.01 437.60,195.21 439.40,200.00 C441.20,204.79 443.00,221.57 444.80,229.52 C446.60,237.47 448.40,242.68 450.20,247.70 C452.00,252.72 453.80,257.87 455.60,259.64 C457.40,261.40 459.20,259.24 461.00,258.30 C462.80,257.36 464.60,255.39 466.40,253.97 C468.20,252.56 470.00,252.36 471.80,249.81 C473.60,247.25 475.40,245.21 477.20,238.64 C479.00,232.07 480.80,215.65 482.60,210.41 C484.40,205.16 486.20,208.79 488.00,207.18 C489.80,205.57 491.60,202.02 493.40,200.73 C495.20,199.45 497.00,199.97 498.80,199.48 C500.60,198.98 502.40,193.60 504.20,197.75 C506.00,201.89 507.80,215.47 509.60,224.33 C511.40,233.19 513.20,244.76 515.00,250.91 C516.80,257.05 519.50,259.49 520.40,261.21" fill="none" stroke="#ff9040" stroke-width="1.1" stroke-linejoin="round"/>
<polygon points="93.80,209.60 91.60,214.00 96.00,214.00" fill="#ff7a10"/><polygon points="99.20,182.80 97.00,187.20 101.40,187.20" fill="#ff7a10"/><polygon points="104.60,186.40 102.40,190.80 106.80,190.80" fill="#ff7a10"/><polygon points="110.00,183.80 107.80,188.20 112.20,188.20" fill="#ff7a10"/><polygon points="115.40,202.36 113.20,206.76 117.60,206.76" fill="#ff7a10"/><polygon points="120.80,223.59 118.60,227.99 123.00,227.99" fill="#ff7a10"/><polygon points="126.20,242.80 124.00,247.20 128.40,247.20" fill="#ff7a10"/><polygon points="131.60,257.80 129.40,262.20 133.80,262.20" fill="#ff7a10"/><polygon points="137.00,254.80 134.80,259.20 139.20,259.20" fill="#ff7a10"/><polygon points="142.40,260.80 140.20,265.20 144.60,265.20" fill="#ff7a10"/><polygon points="147.80,258.80 145.60,263.20 150.00,263.20" fill="#ff7a10"/><polygon points="153.20,243.80 151.00,248.20 155.40,248.20" fill="#ff7a10"/><polygon points="158.60,214.90 156.40,219.30 160.80,219.30" fill="#ff7a10"/><polygon points="164.00,189.90 161.80,194.30 166.20,194.30" fill="#ff7a10"/><polygon points="169.40,190.80 167.20,195.20 171.60,195.20" fill="#ff7a10"/><polygon points="174.80,200.70 172.60,205.10 177.00,205.10" fill="#ff7a10"/><polygon points="180.20,202.40 178.00,206.80 182.40,206.80" fill="#ff7a10"/><polygon points="185.60,211.79 183.40,216.19 187.80,216.19" fill="#ff7a10"/><polygon points="191.00,243.69 188.80,248.09 193.20,248.09" fill="#ff7a10"/><polygon points="196.40,252.57 194.20,256.97 198.60,256.97" fill="#ff7a10"/><polygon points="201.80,248.74 199.60,253.14 204.00,253.14" fill="#ff7a10"/><polygon points="207.20,259.70 205.00,264.10 209.40,264.10" fill="#ff7a10"/><polygon points="212.60,245.81 210.40,250.21 214.80,250.21" fill="#ff7a10"/><polygon points="218.00,243.72 215.80,248.12 220.20,248.12" fill="#ff7a10"/><polygon points="223.40,222.67 221.20,227.07 225.60,227.07" fill="#ff7a10"/><polygon points="228.80,195.28 226.60,199.68 231.00,199.68" fill="#ff7a10"/><polygon points="234.20,192.20 232.00,196.60 236.40,196.60" fill="#ff7a10"/><polygon points="239.60,192.20 237.40,196.60 241.80,196.60" fill="#ff7a10"/><polygon points="245.00,191.80 242.80,196.20 247.20,196.20" fill="#ff7a10"/><polygon points="250.40,217.16 248.20,221.56 252.60,221.56" fill="#ff7a10"/><polygon points="255.80,249.88 253.60,254.28 258.00,254.28" fill="#ff7a10"/><polygon points="261.20,257.18 259.00,261.58 263.40,261.58" fill="#ff7a10"/><polygon points="266.60,254.80 264.40,259.20 268.80,259.20" fill="#ff7a10"/><polygon points="272.00,255.50 269.80,259.90 274.20,259.90" fill="#ff7a10"/><polygon points="277.40,242.64 275.20,247.04 279.60,247.04" fill="#ff7a10"/><polygon points="282.80,240.89 280.60,245.29 285.00,245.29" fill="#ff7a10"/><polygon points="288.20,200.30 286.00,204.70 290.40,204.70" fill="#ff7a10"/><polygon points="293.60,197.80 291.40,202.20 295.80,202.20" fill="#ff7a10"/><polygon points="299.00,193.00 296.80,197.40 301.20,197.40" fill="#ff7a10"/><polygon points="304.40,199.30 302.20,203.70 306.60,203.70" fill="#ff7a10"/><polygon points="309.80,201.80 307.60,206.20 312.00,206.20" fill="#ff7a10"/><polygon points="315.20,227.57 313.00,231.97 317.40,231.97" fill="#ff7a10"/><polygon points="320.60,247.50 318.40,251.90 322.80,251.90" fill="#ff7a10"/><polygon points="326.00,253.80 323.80,258.20 328.20,258.20" fill="#ff7a10"/><polygon points="331.40,255.50 329.20,259.90 333.60,259.90" fill="#ff7a10"/><polygon points="336.80,259.80 334.60,264.20 339.00,264.20" fill="#ff7a10"/><polygon points="342.20,242.82 340.00,247.22 344.40,247.22" fill="#ff7a10"/><polygon points="347.60,234.66 345.40,239.06 349.80,239.06" fill="#ff7a10"/><polygon points="353.00,220.40 350.80,224.80 355.20,224.80" fill="#ff7a10"/><polygon points="358.40,198.40 356.20,202.80 360.60,202.80" fill="#ff7a10"/><polygon points="363.80,198.40 361.60,202.80 366.00,202.80" fill="#ff7a10"/><polygon points="369.20,202.60 367.00,207.00 371.40,207.00" fill="#ff7a10"/><polygon points="374.60,197.80 372.40,202.20 376.80,202.20" fill="#ff7a10"/><polygon points="380.00,214.09 377.80,218.49 382.20,218.49" fill="#ff7a10"/><polygon points="385.40,246.40 383.20,250.80 387.60,250.80" fill="#ff7a10"/><polygon points="390.80,250.66 388.60,255.06 393.00,255.06" fill="#ff7a10"/><polygon points="396.20,249.82 394.00,254.22 398.40,254.22" fill="#ff7a10"/><polygon points="401.60,259.80 399.40,264.20 403.80,264.20" fill="#ff7a10"/><polygon points="407.00,248.95 404.80,253.35 409.20,253.35" fill="#ff7a10"/><polygon points="412.40,253.93 410.20,258.33 414.60,258.33" fill="#ff7a10"/><polygon points="417.80,209.10 415.60,213.50 420.00,213.50" fill="#ff7a10"/><polygon points="423.20,195.50 421.00,199.90 425.40,199.90" fill="#ff7a10"/><polygon points="428.60,196.55 426.40,200.95 430.80,200.95" fill="#ff7a10"/><polygon points="434.00,198.60 431.80,203.00 436.20,203.00" fill="#ff7a10"/><polygon points="439.40,197.80 437.20,202.20 441.60,202.20" fill="#ff7a10"/><polygon points="444.80,227.32 442.60,231.72 447.00,231.72" fill="#ff7a10"/><polygon points="450.20,245.50 448.00,249.90 452.40,249.90" fill="#ff7a10"/><polygon points="455.60,257.44 453.40,261.84 457.80,261.84" fill="#ff7a10"/><polygon points="461.00,256.10 458.80,260.50 463.20,260.50" fill="#ff7a10"/><polygon points="466.40,251.77 464.20,256.17 468.60,256.17" fill="#ff7a10"/><polygon points="471.80,247.61 469.60,252.01 474.00,252.01" fill="#ff7a10"/><polygon points="477.20,236.44 475.00,240.84 479.40,240.84" fill="#ff7a10"/><polygon points="482.60,208.21 480.40,212.61 484.80,212.61" fill="#ff7a10"/><polygon points="488.00,204.98 485.80,209.38 490.20,209.38" fill="#ff7a10"/><polygon points="493.40,198.53 491.20,202.93 495.60,202.93" fill="#ff7a10"/><polygon points="498.80,197.28 496.60,201.68 501.00,201.68" fill="#ff7a10"/><polygon points="504.20,195.55 502.00,199.95 506.40,199.95" fill="#ff7a10"/><polygon points="509.60,222.13 507.40,226.53 511.80,226.53" fill="#ff7a10"/><polygon points="515.00,248.71 512.80,253.11 517.20,253.11" fill="#ff7a10"/><polygon points="520.40,259.01 518.20,263.41 522.60,263.41" fill="#ff7a10"/>
<path d="M93.80,208.20 L99.20,179.60 L104.60,185.90 L110.00,184.00 L115.40,196.60 L120.80,225.00 L126.20,247.30 L131.60,262.50 L137.00,262.50 L142.40,266.30 L147.80,263.30 L153.20,245.40 L158.60,211.35 L164.00,182.00 L169.40,179.30 L174.80,192.10 L180.20,199.30 L185.60,214.51 L191.00,252.50 L196.40,264.00 L201.80,265.00 L207.20,263.80 L212.60,261.90 L218.00,251.50 L223.40,221.45 L228.80,187.00 L234.20,188.00 L239.60,183.30 L245.00,189.20 L250.40,217.93 L255.80,254.00 L261.20,264.00 L266.60,264.00 L272.00,264.00 L277.40,255.60 L282.80,251.30 L288.20,195.40 L293.60,195.59 L299.00,185.80 L304.40,190.00 L309.80,192.00 L315.20,225.77 L320.60,252.50 L326.00,260.80 L331.40,265.00 L336.80,261.00 L342.20,256.70 L347.60,240.02 L353.00,220.40 L358.40,193.30 L363.80,183.00 L369.20,190.20 L374.60,191.20 L380.00,214.35 L385.40,253.63 L390.80,262.30 L396.20,264.40 L401.60,263.00 L407.00,256.00 L412.40,254.00 L417.80,200.78 L423.20,181.00 L428.60,181.70 L434.00,189.40 L439.40,196.02 L444.80,232.08 L450.20,251.90 L455.60,263.33 L461.00,264.83 L466.40,260.19 L471.80,254.21 L477.20,242.73 L482.60,195.39 L488.00,195.23 L493.40,182.25 L498.80,194.76 L504.20,182.25 L509.60,217.56 L515.00,252.87 L520.40,263.96" fill="none" stroke="#20a020" stroke-width="1.1" stroke-linejoin="round"/>
<polygon points="93.80,210.40 91.60,206.00 96.00,206.00" fill="#008a00"/><polygon points="99.20,181.80 97.00,177.40 101.40,177.40" fill="#008a00"/><polygon points="104.60,188.10 102.40,183.70 106.80,183.70" fill="#008a00"/><polygon points="110.00,186.20 107.80,181.80 112.20,181.80" fill="#008a00"/><polygon points="115.40,198.80 113.20,194.40 117.60,194.40" fill="#008a00"/><polygon points="120.80,227.20 118.60,222.80 123.00,222.80" fill="#008a00"/><polygon points="126.20,249.50 124.00,245.10 128.40,245.10" fill="#008a00"/><polygon points="131.60,264.70 129.40,260.30 133.80,260.30" fill="#008a00"/><polygon points="137.00,264.70 134.80,260.30 139.20,260.30" fill="#008a00"/><polygon points="142.40,268.50 140.20,264.10 144.60,264.10" fill="#008a00"/><polygon points="147.80,265.50 145.60,261.10 150.00,261.10" fill="#008a00"/><polygon points="153.20,247.60 151.00,243.20 155.40,243.20" fill="#008a00"/><polygon points="158.60,213.55 156.40,209.15 160.80,209.15" fill="#008a00"/><polygon points="164.00,184.20 161.80,179.80 166.20,179.80" fill="#008a00"/><polygon points="169.40,181.50 167.20,177.10 171.60,177.10" fill="#008a00"/><polygon points="174.80,194.30 172.60,189.90 177.00,189.90" fill="#008a00"/><polygon points="180.20,201.50 178.00,197.10 182.40,197.10" fill="#008a00"/><polygon points="185.60,216.71 183.40,212.31 187.80,212.31" fill="#008a00"/><polygon points="191.00,254.70 188.80,250.30 193.20,250.30" fill="#008a00"/><polygon points="196.40,266.20 194.20,261.80 198.60,261.80" fill="#008a00"/><polygon points="201.80,267.20 199.60,262.80 204.00,262.80" fill="#008a00"/><polygon points="207.20,266.00 205.00,261.60 209.40,261.60" fill="#008a00"/><polygon points="212.60,264.10 210.40,259.70 214.80,259.70" fill="#008a00"/><polygon points="218.00,253.70 215.80,249.30 220.20,249.30" fill="#008a00"/><polygon points="223.40,223.65 221.20,219.25 225.60,219.25" fill="#008a00"/><polygon points="228.80,189.20 226.60,184.80 231.00,184.80" fill="#008a00"/><polygon points="234.20,190.20 232.00,185.80 236.40,185.80" fill="#008a00"/><polygon points="239.60,185.50 237.40,181.10 241.80,181.10" fill="#008a00"/><polygon points="245.00,191.40 242.80,187.00 247.20,187.00" fill="#008a00"/><polygon points="250.40,220.13 248.20,215.73 252.60,215.73" fill="#008a00"/><polygon points="255.80,256.20 253.60,251.80 258.00,251.80" fill="#008a00"/><polygon points="261.20,266.20 259.00,261.80 263.40,261.80" fill="#008a00"/><polygon points="266.60,266.20 264.40,261.80 268.80,261.80" fill="#008a00"/><polygon points="272.00,266.20 269.80,261.80 274.20,261.80" fill="#008a00"/><polygon points="277.40,257.80 275.20,253.40 279.60,253.40" fill="#008a00"/><polygon points="282.80,253.50 280.60,249.10 285.00,249.10" fill="#008a00"/><polygon points="288.20,197.60 286.00,193.20 290.40,193.20" fill="#008a00"/><polygon points="293.60,197.79 291.40,193.39 295.80,193.39" fill="#008a00"/><polygon points="299.00,188.00 296.80,183.60 301.20,183.60" fill="#008a00"/><polygon points="304.40,192.20 302.20,187.80 306.60,187.80" fill="#008a00"/><polygon points="309.80,194.20 307.60,189.80 312.00,189.80" fill="#008a00"/><polygon points="315.20,227.97 313.00,223.57 317.40,223.57" fill="#008a00"/><polygon points="320.60,254.70 318.40,250.30 322.80,250.30" fill="#008a00"/><polygon points="326.00,263.00 323.80,258.60 328.20,258.60" fill="#008a00"/><polygon points="331.40,267.20 329.20,262.80 333.60,262.80" fill="#008a00"/><polygon points="336.80,263.20 334.60,258.80 339.00,258.80" fill="#008a00"/><polygon points="342.20,258.90 340.00,254.50 344.40,254.50" fill="#008a00"/><polygon points="347.60,242.22 345.40,237.82 349.80,237.82" fill="#008a00"/><polygon points="353.00,222.60 350.80,218.20 355.20,218.20" fill="#008a00"/><polygon points="358.40,195.50 356.20,191.10 360.60,191.10" fill="#008a00"/><polygon points="363.80,185.20 361.60,180.80 366.00,180.80" fill="#008a00"/><polygon points="369.20,192.40 367.00,188.00 371.40,188.00" fill="#008a00"/><polygon points="374.60,193.40 372.40,189.00 376.80,189.00" fill="#008a00"/><polygon points="380.00,216.55 377.80,212.15 382.20,212.15" fill="#008a00"/><polygon points="385.40,255.83 383.20,251.43 387.60,251.43" fill="#008a00"/><polygon points="390.80,264.50 388.60,260.10 393.00,260.10" fill="#008a00"/><polygon points="396.20,266.60 394.00,262.20 398.40,262.20" fill="#008a00"/><polygon points="401.60,265.20 399.40,260.80 403.80,260.80" fill="#008a00"/><polygon points="407.00,258.20 404.80,253.80 409.20,253.80" fill="#008a00"/><polygon points="412.40,256.20 410.20,251.80 414.60,251.80" fill="#008a00"/><polygon points="417.80,202.98 415.60,198.58 420.00,198.58" fill="#008a00"/><polygon points="423.20,183.20 421.00,178.80 425.40,178.80" fill="#008a00"/><polygon points="428.60,183.90 426.40,179.50 430.80,179.50" fill="#008a00"/><polygon points="434.00,191.60 431.80,187.20 436.20,187.20" fill="#008a00"/><polygon points="439.40,198.22 437.20,193.82 441.60,193.82" fill="#008a00"/><polygon points="444.80,234.28 442.60,229.88 447.00,229.88" fill="#008a00"/><polygon points="450.20,254.10 448.00,249.70 452.40,249.70" fill="#008a00"/><polygon points="455.60,265.53 453.40,261.13 457.80,261.13" fill="#008a00"/><polygon points="461.00,267.03 458.80,262.63 463.20,262.63" fill="#008a00"/><polygon points="466.40,262.39 464.20,257.99 468.60,257.99" fill="#008a00"/><polygon points="471.80,256.41 469.60,252.01 474.00,252.01" fill="#008a00"/><polygon points="477.20,244.93 475.00,240.53 479.40,240.53" fill="#008a00"/><polygon points="482.60,197.59 480.40,193.19 484.80,193.19" fill="#008a00"/><polygon points="488.00,197.43 485.80,193.03 490.20,193.03" fill="#008a00"/><polygon points="493.40,184.45 491.20,180.05 495.60,180.05" fill="#008a00"/><polygon points="498.80,196.96 496.60,192.56 501.00,192.56" fill="#008a00"/><polygon points="504.20,184.45 502.00,180.05 506.40,180.05" fill="#008a00"/><polygon points="509.60,219.76 507.40,215.36 511.80,215.36" fill="#008a00"/><polygon points="515.00,255.07 512.80,250.67 517.20,250.67" fill="#008a00"/><polygon points="520.40,266.16 518.20,261.76 522.60,261.76" fill="#008a00"/>
<path d="M93.80,206.00 C94.70,202.05 97.40,186.05 99.20,182.30 C101.00,178.55 102.80,183.50 104.60,183.50 C106.40,183.50 108.20,179.38 110.00,182.30 C111.80,185.22 113.60,194.22 115.40,201.00 C117.20,207.78 119.00,216.08 120.80,223.00 C122.60,229.92 124.40,236.58 126.20,242.50 C128.00,248.42 129.80,256.53 131.60,258.50 C133.40,260.47 135.20,252.52 137.00,254.30 C138.80,256.08 140.60,268.58 142.40,269.20 C144.20,269.82 146.00,262.47 147.80,258.00 C149.60,253.53 151.40,250.07 153.20,242.40 C155.00,234.73 156.80,221.33 158.60,212.00 C160.40,202.67 162.20,192.33 164.00,186.40 C165.80,180.47 167.60,176.10 169.40,176.40 C171.20,176.70 173.00,184.27 174.80,188.20 C176.60,192.13 178.40,195.95 180.20,200.00 C182.00,204.05 183.80,204.45 185.60,212.50 C187.40,220.55 189.20,240.42 191.00,248.30 C192.80,256.18 194.60,257.72 196.40,259.80 C198.20,261.88 200.00,258.55 201.80,260.80 C203.60,263.05 205.40,273.98 207.20,273.30 C209.00,272.62 210.80,260.87 212.60,256.70 C214.40,252.53 216.20,254.17 218.00,248.30 C219.80,242.43 221.60,231.18 223.40,221.50 C225.20,211.82 227.00,196.28 228.80,190.20 C230.60,184.12 232.40,187.53 234.20,185.00 C236.00,182.47 237.80,174.83 239.60,175.00 C241.40,175.17 243.20,179.33 245.00,186.00 C246.80,192.67 248.60,204.08 250.40,215.00 C252.20,225.92 254.00,244.03 255.80,251.50 C257.60,258.97 259.40,259.28 261.20,259.80 C263.00,260.32 264.80,252.87 266.60,254.60 C268.40,256.33 270.20,270.55 272.00,270.20 C273.80,269.85 275.60,256.32 277.40,252.50 C279.20,248.68 281.00,257.02 282.80,247.30 C284.60,237.58 286.40,203.42 288.20,194.20 C290.00,184.98 291.80,194.43 293.60,192.00 C295.40,189.57 297.20,181.50 299.00,179.60 C300.80,177.70 302.60,176.95 304.40,180.60 C306.20,184.25 308.00,193.68 309.80,201.50 C311.60,209.32 313.40,220.03 315.20,227.50 C317.00,234.97 318.80,242.83 320.60,246.30 C322.40,249.77 324.20,247.10 326.00,248.30 C327.80,249.50 329.60,249.85 331.40,253.50 C333.20,257.15 335.00,271.07 336.80,270.20 C338.60,269.33 340.40,254.37 342.20,248.30 C344.00,242.23 345.80,239.13 347.60,233.80 C349.40,228.47 351.20,224.10 353.00,216.30 C354.80,208.50 356.60,194.30 358.40,187.00 C360.20,179.70 362.00,174.40 363.80,172.50 C365.60,170.60 367.40,172.13 369.20,175.60 C371.00,179.07 372.80,187.02 374.60,193.30 C376.40,199.58 378.20,203.88 380.00,213.30 C381.80,222.72 383.60,242.85 385.40,249.80 C387.20,256.75 389.00,253.78 390.80,255.00 C392.60,256.22 394.40,254.85 396.20,257.10 C398.00,259.35 399.80,268.85 401.60,268.50 C403.40,268.15 405.20,256.38 407.00,255.00 C408.80,253.62 410.60,268.70 412.40,260.20 C414.20,251.70 416.00,217.03 417.80,204.00 C419.60,190.97 421.40,188.37 423.20,182.00 C425.00,175.63 426.80,165.27 428.60,165.80 C430.40,166.33 432.20,180.92 434.00,185.20 C435.80,189.48 437.60,184.38 439.40,191.50 C441.20,198.62 443.00,218.53 444.80,227.90 C446.60,237.27 448.40,242.48 450.20,247.70 C452.00,252.92 453.80,257.32 455.60,259.24 C457.40,261.17 459.20,257.84 461.00,259.24 C462.80,260.65 464.60,269.23 466.40,267.66 C468.20,266.08 470.00,255.27 471.80,249.81 C473.60,244.34 475.40,244.56 477.20,234.86 C479.00,225.17 480.80,200.52 482.60,191.61 C484.40,182.70 486.20,184.53 488.00,181.39 C489.80,178.24 491.60,173.59 493.40,172.74 C495.20,171.89 497.00,175.36 498.80,176.28 C500.60,177.19 502.40,172.68 504.20,178.24 C506.00,183.81 507.80,199.19 509.60,209.66 C511.40,220.13 513.20,236.88 515.00,241.08 C516.80,245.28 519.50,235.90 520.40,234.86" fill="none" stroke="#b81a1a" stroke-width="1.1" stroke-linejoin="round"/>
<circle cx="93.80" cy="206.00" r="1.87" fill="#a00000"/><circle cx="99.20" cy="182.30" r="1.87" fill="#a00000"/><circle cx="104.60" cy="183.50" r="1.87" fill="#a00000"/><circle cx="110.00" cy="182.30" r="1.87" fill="#a00000"/><circle cx="115.40" cy="201.00" r="1.87" fill="#a00000"/><circle cx="120.80" cy="223.00" r="1.87" fill="#a00000"/><circle cx="126.20" cy="242.50" r="1.87" fill="#a00000"/><circle cx="131.60" cy="258.50" r="1.87" fill="#a00000"/><circle cx="137.00" cy="254.30" r="1.87" fill="#a00000"/><circle cx="142.40" cy="269.20" r="1.87" fill="#a00000"/><circle cx="147.80" cy="258.00" r="1.87" fill="#a00000"/><circle cx="153.20" cy="242.40" r="1.87" fill="#a00000"/><circle cx="158.60" cy="212.00" r="1.87" fill="#a00000"/><circle cx="164.00" cy="186.40" r="1.87" fill="#a00000"/><circle cx="169.40" cy="176.40" r="1.87" fill="#a00000"/><circle cx="174.80" cy="188.20" r="1.87" fill="#a00000"/><circle cx="180.20" cy="200.00" r="1.87" fill="#a00000"/><circle cx="185.60" cy="212.50" r="1.87" fill="#a00000"/><circle cx="191.00" cy="248.30" r="1.87" fill="#a00000"/><circle cx="196.40" cy="259.80" r="1.87" fill="#a00000"/><circle cx="201.80" cy="260.80" r="1.87" fill="#a00000"/><circle cx="207.20" cy="273.30" r="1.87" fill="#a00000"/><circle cx="212.60" cy="256.70" r="1.87" fill="#a00000"/><circle cx="218.00" cy="248.30" r="1.87" fill="#a00000"/><circle cx="223.40" cy="221.50" r="1.87" fill="#a00000"/><circle cx="228.80" cy="190.20" r="1.87" fill="#a00000"/><circle cx="234.20" cy="185.00" r="1.87" fill="#a00000"/><circle cx="239.60" cy="175.00" r="1.87" fill="#a00000"/><circle cx="245.00" cy="186.00" r="1.87" fill="#a00000"/><circle cx="250.40" cy="215.00" r="1.87" fill="#a00000"/><circle cx="255.80" cy="251.50" r="1.87" fill="#a00000"/><circle cx="261.20" cy="259.80" r="1.87" fill="#a00000"/><circle cx="266.60" cy="254.60" r="1.87" fill="#a00000"/><circle cx="272.00" cy="270.20" r="1.87" fill="#a00000"/><circle cx="277.40" cy="252.50" r="1.87" fill="#a00000"/><circle cx="282.80" cy="247.30" r="1.87" fill="#a00000"/><circle cx="288.20" cy="194.20" r="1.87" fill="#a00000"/><circle cx="293.60" cy="192.00" r="1.87" fill="#a00000"/><circle cx="299.00" cy="179.60" r="1.87" fill="#a00000"/><circle cx="304.40" cy="180.60" r="1.87" fill="#a00000"/><circle cx="309.80" cy="201.50" r="1.87" fill="#a00000"/><circle cx="315.20" cy="227.50" r="1.87" fill="#a00000"/><circle cx="320.60" cy="246.30" r="1.87" fill="#a00000"/><circle cx="326.00" cy="248.30" r="1.87" fill="#a00000"/><circle cx="331.40" cy="253.50" r="1.87" fill="#a00000"/><circle cx="336.80" cy="270.20" r="1.87" fill="#a00000"/><circle cx="342.20" cy="248.30" r="1.87" fill="#a00000"/><circle cx="347.60" cy="233.80" r="1.87" fill="#a00000"/><circle cx="353.00" cy="216.30" r="1.87" fill="#a00000"/><circle cx="358.40" cy="187.00" r="1.87" fill="#a00000"/><circle cx="363.80" cy="172.50" r="1.87" fill="#a00000"/><circle cx="369.20" cy="175.60" r="1.87" fill="#a00000"/><circle cx="374.60" cy="193.30" r="1.87" fill="#a00000"/><circle cx="380.00" cy="213.30" r="1.87" fill="#a00000"/><circle cx="385.40" cy="249.80" r="1.87" fill="#a00000"/><circle cx="390.80" cy="255.00" r="1.87" fill="#a00000"/><circle cx="396.20" cy="257.10" r="1.87" fill="#a00000"/><circle cx="401.60" cy="268.50" r="1.87" fill="#a00000"/><circle cx="407.00" cy="255.00" r="1.87" fill="#a00000"/><circle cx="412.40" cy="260.20" r="1.87" fill="#a00000"/><circle cx="417.80" cy="204.00" r="1.87" fill="#a00000"/><circle cx="423.20" cy="182.00" r="1.87" fill="#a00000"/><circle cx="428.60" cy="165.80" r="1.87" fill="#a00000"/><circle cx="434.00" cy="185.20" r="1.87" fill="#a00000"/><circle cx="439.40" cy="191.50" r="1.87" fill="#a00000"/><circle cx="444.80" cy="227.90" r="1.87" fill="#a00000"/><circle cx="450.20" cy="247.70" r="1.87" fill="#a00000"/><circle cx="455.60" cy="259.24" r="1.87" fill="#a00000"/><circle cx="461.00" cy="259.24" r="1.87" fill="#a00000"/><circle cx="466.40" cy="267.66" r="1.87" fill="#a00000"/><circle cx="471.80" cy="249.81" r="1.87" fill="#a00000"/><circle cx="477.20" cy="234.86" r="1.87" fill="#a00000"/><circle cx="482.60" cy="191.61" r="1.87" fill="#a00000"/><circle cx="488.00" cy="181.39" r="1.87" fill="#a00000"/><circle cx="493.40" cy="172.74" r="1.87" fill="#a00000"/><circle cx="498.80" cy="176.28" r="1.87" fill="#a00000"/><circle cx="504.20" cy="178.24" r="1.87" fill="#a00000"/><circle cx="509.60" cy="209.66" r="1.87" fill="#a00000"/><circle cx="515.00" cy="241.08" r="1.87" fill="#a00000"/><circle cx="520.40" cy="234.86" r="1.87" fill="#a00000"/>
</g>
<g stroke="#000" fill="none">
<path d="M88.4,6.4 V288.2" stroke-width="2"/>
<path d="M87.4,287.4 H548.8" stroke-width="2"/>
<path d="M88,7.2 H548.8" stroke-width="1.6"/>
<path d="M547.9,6.4 V288.2" stroke-width="1.8"/>
<path d="M81.2,267.50 H88.4" stroke-width="1.6"/>
<path d="M81.2,202.43 H88.4" stroke-width="1.6"/>
<path d="M81.2,137.35 H88.4" stroke-width="1.6"/>
<path d="M81.2,72.28 H88.4" stroke-width="1.6"/>
<path d="M81.2,7.20 H88.4" stroke-width="1.6"/>
<path d="M88.40,287.4 V294.4" stroke-width="1.6"/>
<path d="M142.40,287.4 V294.4" stroke-width="1.6"/>
<path d="M196.40,287.4 V294.4" stroke-width="1.6"/>
<path d="M250.40,287.4 V294.4" stroke-width="1.6"/>
<path d="M304.40,287.4 V294.4" stroke-width="1.6"/>
<path d="M358.40,287.4 V294.4" stroke-width="1.6"/>
<path d="M412.40,287.4 V294.4" stroke-width="1.6"/>
<path d="M466.40,287.4 V294.4" stroke-width="1.6"/>
<path d="M520.40,287.4 V294.4" stroke-width="1.6"/>
</g>
<g font-family="Liberation Serif, serif" font-size="15.2" fill="#000" stroke="#000" stroke-width="0.3">
<text transform="translate(75.2,273.80) scale(1,1.05)" text-anchor="end">10, 000</text>
<text transform="translate(75.2,208.73) scale(1,1.05)" text-anchor="end">15, 000</text>
<text transform="translate(75.2,143.65) scale(1,1.05)" text-anchor="end">20, 000</text>
<text transform="translate(75.2,78.58) scale(1,1.05)" text-anchor="end">25, 000</text>
<text transform="translate(75.2,13.50) scale(1,1.05)" text-anchor="end">30, 000</text>
</g>
<g font-family="Liberation Serif, serif" font-size="15" fill="#000" stroke="#000" stroke-width="0.3">
<text transform="translate(88.40,313.6) scale(1,1.16)" text-anchor="middle">0</text>
<text transform="translate(142.40,313.6) scale(1,1.16)" text-anchor="middle">10</text>
<text transform="translate(196.40,313.6) scale(1,1.16)" text-anchor="middle">20</text>
<text transform="translate(250.40,313.6) scale(1,1.16)" text-anchor="middle">30</text>
<text transform="translate(304.40,313.6) scale(1,1.16)" text-anchor="middle">40</text>
<text transform="translate(358.40,313.6) scale(1,1.16)" text-anchor="middle">50</text>
<text transform="translate(412.40,313.6) scale(1,1.16)" text-anchor="middle">60</text>
<text transform="translate(466.40,313.6) scale(1,1.16)" text-anchor="middle">70</text>
<text transform="translate(520.40,313.6) scale(1,1.16)" text-anchor="middle">80</text>
</g>
<text x="294.2" y="331.6" font-family="Liberation Sans, sans-serif" font-size="18" letter-spacing="0.55">month</text>
<g font-family="Liberation Sans, sans-serif" fill="#000">
<text transform="translate(19.8,243.4) rotate(-90)" font-size="19.6">Electric load</text>
<text transform="translate(18.8,123.2) rotate(-90) scale(0.8,0.75)" font-size="19">(</text>
<text transform="translate(19.8,115.6) rotate(-90)" font-size="19">10</text>
<text transform="translate(12.2,93.6) rotate(-90)" font-size="13.5">12</text>
<text transform="translate(19.8,78.4) rotate(-90)" font-size="19">J</text>
<text transform="translate(18.8,67.6) rotate(-90) scale(0.8,0.75)" font-size="19">)</text>
</g>
<rect x="90.5" y="9.1" width="92" height="97.4" fill="#fff" stroke="#444" stroke-width="1.1"/>
<g font-family="Liberation Sans, sans-serif" font-size="11" fill="#000">
<path d="M92.3,16.80 H117.5" stroke="#c8b088" stroke-width="1.8"/>
<circle cx="104.50" cy="16.80" r="1.53" fill="#6a4a08"/>
<text x="120.3" y="20.70">RF</text>
<path d="M92.3,30.47 H105" stroke="#f4c0f4" stroke-width="1.2"/>
<path d="M105,30.47 H117.5" stroke="#a020e0" stroke-width="1.5"/>
<polygon points="104.50,28.22 105.03,29.74 106.64,29.77 105.36,30.75 105.82,32.29 104.50,31.37 103.18,32.29 103.64,30.75 102.36,29.77 103.97,29.74" fill="#f4c8f4"/>
<text x="120.3" y="34.37">Adaboost</text>
<path d="M92.3,44.14 H117.5" stroke="#ff5090" stroke-width="1.4"/>
<polygon points="102.70,44.14 106.30,42.34 106.30,45.94" fill="#ee0010"/>
<text x="120.3" y="48.04">original data</text>
<path d="M92.3,57.81 H117.5" stroke="#5070f0" stroke-width="1.4"/>
<polygon points="106.30,57.81 102.70,56.01 102.70,59.61" fill="#0808d8"/>
<text x="120.3" y="61.71">BP</text>
<path d="M92.3,71.48 H117.5" stroke="#f8a868" stroke-width="1.4"/>
<polygon points="104.50,69.68 102.70,73.28 106.30,73.28" fill="#ff7a10"/>
<text x="120.3" y="75.38">LSTM</text>
<path d="M92.3,85.15 H117.5" stroke="#50c050" stroke-width="1.4"/>
<polygon points="104.50,86.95 102.70,83.35 106.30,83.35" fill="#008a00"/>
<text x="120.3" y="89.05">GRU</text>
<path d="M92.3,98.82 H117.5" stroke="#d08888" stroke-width="1.4"/>
<circle cx="104.50" cy="98.82" r="1.53" fill="#a00000"/>
<text x="120.3" y="102.72">EMDIA</text>
</g>
<rect x="241.3" y="7.8" width="302.4" height="149.4" fill="#fff"/>
<g clip-path="url(#ci)">
<path d="M241.30,139.50 L266.50,139.00 L291.70,136.00 L316.90,127.00 L342.10,117.60 L367.30,48.00 L392.50,47.10 L417.70,25.10 L442.90,44.20 L468.10,22.80 L493.30,73.40 L518.50,124.00 L543.70,138.00" fill="none" stroke="#e2d6c0" stroke-width="1.6" stroke-linejoin="round"/>
<path d="M241.30,139.50 L251.38,139.30 M316.90,127.00 L342.10,117.60 L367.30,48.00 M384.94,47.37 L392.50,47.10 L400.06,40.50 M413.92,28.40 L417.70,25.10 L421.48,27.97 M437.86,40.38 L442.90,44.20 L468.10,22.80" fill="none" stroke="#86621e" stroke-width="1.6" stroke-linejoin="round"/>
<path d="M241.30,121.70 L266.50,106.70 L291.70,141.40 L316.90,107.40 L342.10,101.00 L367.30,27.40 L392.50,29.80 L417.70,17.90 L442.90,11.40 L468.10,17.10 L493.30,60.10 L518.50,103.10 L543.70,96.00" fill="none" stroke="#f070f0" stroke-width="1.6" stroke-linejoin="round"/>
<path d="M241.30,130.00 L266.50,127.10 L291.70,149.80 L316.90,115.70 L342.10,108.60 L367.30,34.50 L392.50,36.20 L417.70,15.50 L442.90,23.80 L468.10,24.00 L493.30,69.80 L518.50,115.60 L543.70,97.50" fill="none" stroke="#ff1285" stroke-width="1.6" stroke-linejoin="round"/>
<path d="M241.30,130.00 L266.50,139.00 L291.70,108.10 L316.90,95.50 L342.10,81.20 L367.30,57.10 L392.50,52.90 L417.70,38.30 L442.90,46.10 L468.10,39.80 L493.30,66.78 L518.50,93.75 L543.70,92.80" fill="none" stroke="#1430d0" stroke-width="1.6" stroke-linejoin="round"/>
<path d="M241.30,130.50 L266.50,128.80 L291.70,123.30 L316.90,118.00 L342.10,103.80 L367.30,67.90 L392.50,63.80 L417.70,55.60 L442.90,54.00 L468.10,51.80 L493.30,85.60 L518.50,119.40 L543.70,132.50" fill="none" stroke="#f5852a" stroke-width="1.6" stroke-linejoin="round"/>
<path d="M241.30,135.20 L266.50,137.10 L291.70,131.20 L316.90,123.60 L342.10,109.00 L367.30,48.80 L392.50,48.60 L417.70,32.10 L442.90,48.00 L468.10,32.10 L493.30,77.00 L518.50,121.90 L543.70,136.00" fill="none" stroke="#14a014" stroke-width="1.6" stroke-linejoin="round"/>
<path d="M241.30,130.00 C245.50,130.00 258.10,128.22 266.50,130.00 C274.90,131.78 283.30,142.70 291.70,140.70 C300.10,138.70 308.50,124.95 316.90,118.00 C325.30,111.05 333.70,111.33 342.10,99.00 C350.50,86.67 358.90,55.33 367.30,44.00 C375.70,32.67 384.10,35.00 392.50,31.00 C400.90,27.00 409.30,21.08 417.70,20.00 C426.10,18.92 434.50,23.33 442.90,24.50 C451.30,25.67 459.70,19.93 468.10,27.00 C476.50,34.08 484.90,53.63 493.30,66.95 C501.70,80.27 510.10,101.56 518.50,106.90 C526.90,112.24 539.50,100.32 543.70,99.00" fill="none" stroke="#a00a14" stroke-width="1.6" stroke-linejoin="round"/>
</g>
<rect x="241.3" y="7.8" width="302.4" height="149.4" fill="none" stroke="#000" stroke-width="1.6"/>
<g stroke="#000" stroke-width="1.3">
<path d="M236.9,107.40 H241.3"/>
<path d="M236.9,41.20 H241.3"/>
<path d="M291.70,157.2 V161.4"/>
<path d="M543.70,157.2 V161.4"/>
</g>
<g font-family="Liberation Serif, serif" font-size="9.4" fill="#000" stroke="#000" stroke-width="0.12">
<text x="233.9" y="110.70" text-anchor="end">12, 000</text>
<text x="233.9" y="44.50" text-anchor="end">16, 000</text>
<text x="291.70" y="172.6" text-anchor="middle">70</text>
<text x="543.70" y="172.6" text-anchor="middle">80</text>
</g>
<g font-family="Liberation Sans, sans-serif" font-size="8.5" fill="#111">
<text x="346.1" y="18.9">original data</text>
<text x="311.3" y="46.9">EMDIA</text>
<text x="302.6" y="64.1">Adaboost</text>
<text x="387.3" y="89.9">LSTM</text>
<text x="411.8" y="89.9">GRU</text>
<text x="449.5" y="86.8">RF</text>
<text x="462.7" y="89.5">BP</text>
</g>
<g stroke="#111" stroke-width="1" fill="#111">
<path d="M393,16 H410" fill="none"/><polygon points="414.2,16 408.6,13.9 408.6,18.1" stroke="none"/>
<path d="M338,44 H368" fill="none"/><polygon points="366,44 361,42.2 361,45.8" stroke="none"/>
<polygon points="354.6,61.6 348.1,59.1 348.1,64.1" stroke="none"/>
<path d="M398.7,81.4 V65" fill="none"/><polygon points="398.7,62.6 397,67.5 400.4,67.5" stroke="none"/>
<path d="M420,81.4 V37" fill="none" stroke="#888" stroke-width="1.2"/><polygon points="420,33.6 418.3,38.8 421.7,38.8" stroke="none"/>
<path d="M453.7,76.8 V39" fill="none" stroke-width="1.2"/><polygon points="453.7,35.6 452,40.8 455.4,40.8" stroke="none"/>
<path d="M466.5,80.5 V45" fill="none"/><polygon points="466.5,41.8 464.8,46.8 468.2,46.8" stroke="none"/>
</g>
</svg>
</body></html>
